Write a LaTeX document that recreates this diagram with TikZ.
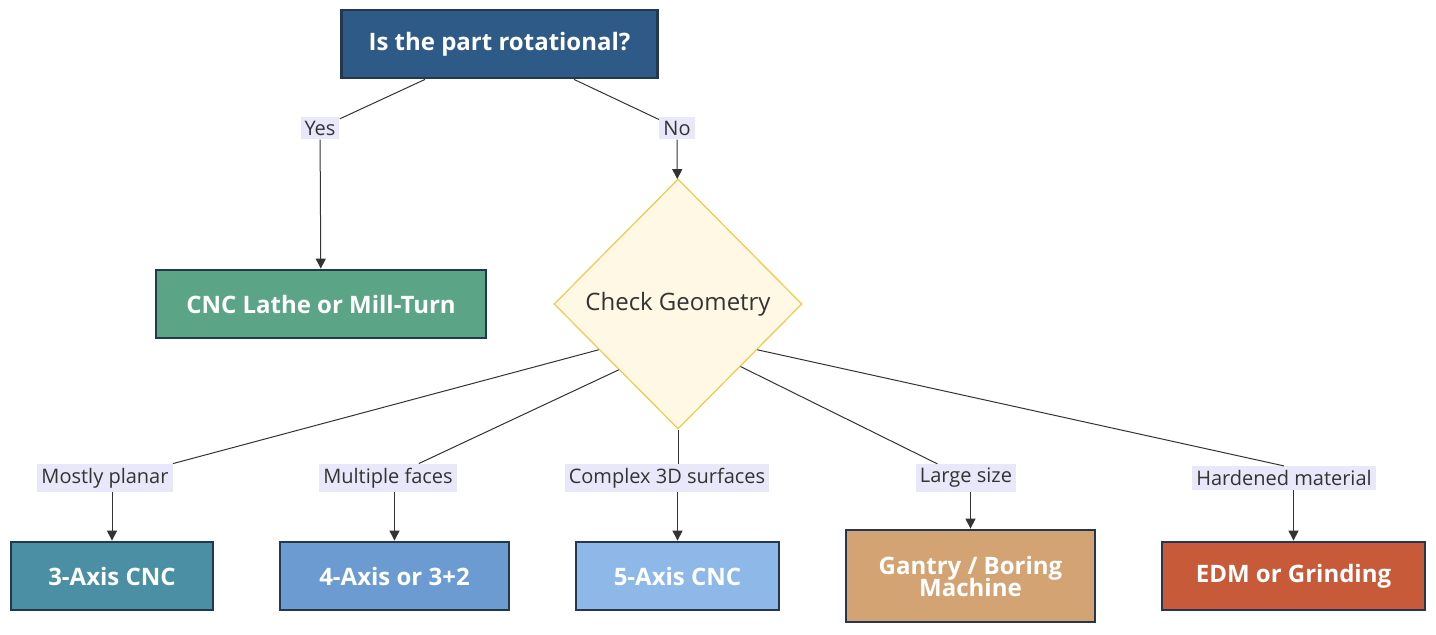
\documentclass[tikz,border=0pt]{standalone}
\usepackage{fontspec}
\setmainfont{Open Sans}
\usetikzlibrary{shapes.geometric,arrows.meta}

\definecolor{edgeC}{HTML}{333333}
\definecolor{borderC}{HTML}{23384F}
\definecolor{labelC}{HTML}{E8E8FA}
\definecolor{topC}{HTML}{2E5A87}
\definecolor{latheC}{HTML}{5BA586}
\definecolor{threeC}{HTML}{4A8FA3}
\definecolor{fourC}{HTML}{6B9BD1}
\definecolor{fiveC}{HTML}{8DB8E8}
\definecolor{gantryC}{HTML}{D4A373}
\definecolor{edmC}{HTML}{C75B39}
\definecolor{diaC}{HTML}{FFF8E5}
\definecolor{diaB}{HTML}{F2C94C}

\tikzset{
  box/.style={draw=borderC, line width=1.4pt, text=white, font=\large\bfseries,
    minimum height=34pt, align=center, inner sep=2pt},
  lbl/.style={fill=labelC, text=edgeC, inner sep=2pt, font=\normalsize},
  edge/.style={draw=edgeC, line width=0.5pt},
  arr/.style={edge, -{Triangle[length=5pt,width=5pt]}}
}

\begin{document}
\begin{tikzpicture}[x=0.5pt, y=-0.5pt]
  \useasboundingbox (0,0) rectangle (1436,634);

  % decision nodes
  \node [box, fill=topC, minimum width=158pt] (rot) at (499.5,44) {Is the part rotational?};
  \node [box, fill=latheC, minimum width=165pt] (lathe) at (321,304) {CNC Lathe or Mill-Turn};
  \node [diamond, draw=diaB, fill=diaC, line width=0.6pt, minimum width=124pt,
    minimum height=125pt, inner sep=0pt, text=edgeC, font=\large] (geo) at (678,304) {Check Geometry};

  % machines
  \node [box, fill=threeC, minimum width=101pt] (ax3) at (112,576) {3-Axis CNC};
  \node [box, fill=fourC, minimum width=114.5pt] (ax4) at (394.5,576) {4-Axis or 3+2};
  \node [box, fill=fiveC, minimum width=101.5pt] (ax5) at (677.5,576) {5-Axis CNC};
  \node [box, fill=gantryC, minimum width=124.5pt, minimum height=46pt] (gantry) at (970.5,576) {Gantry / Boring\\[-3pt]Machine};
  \node [box, fill=edmC, minimum width=131.5pt] (edm) at (1293.5,576) {EDM or Grinding};

  % edge labels
  \node [lbl] (yes) at (320,128) {Yes};
  \node [lbl] (no) at (677,128) {No};
  \node [lbl] (planar) at (105,478) {Mostly planar};
  \node [lbl] (faces) at (388,478) {Multiple faces};
  \node [lbl] (surf) at (667,478) {Complex 3D surfaces};
  \node [lbl] (large) at (966,478) {Large size};
  \node [lbl] (hard) at (1284,478) {Hardened material};

  % connectors
  \draw [edge] (rot.south -| 425,0) -- (yes);
  \draw [arr] (yes) -- (lathe);
  \draw [edge] (rot.south -| 574,0) -- (no);
  \draw [arr] (no) -- (geo);
  \draw [edge] (geo.210) -- (planar.north east);
  \draw [arr] (planar.south -| ax3) -- (ax3);
  \draw [edge] (geo.228) -- (faces);
  \draw [arr] (faces.south -| ax4) -- (ax4);
  \draw [edge] (geo.south) -- (surf.north -| geo);
  \draw [arr] (surf.south -| ax5) -- (ax5);
  \draw [edge] (geo.-45) -- (large);
  \draw [arr] (large.south -| gantry) -- (gantry);
  \draw [edge] (geo.-30) -- (hard.north);
  \draw [arr] (hard.south -| edm) -- (edm);
\end{tikzpicture}
\end{document}
